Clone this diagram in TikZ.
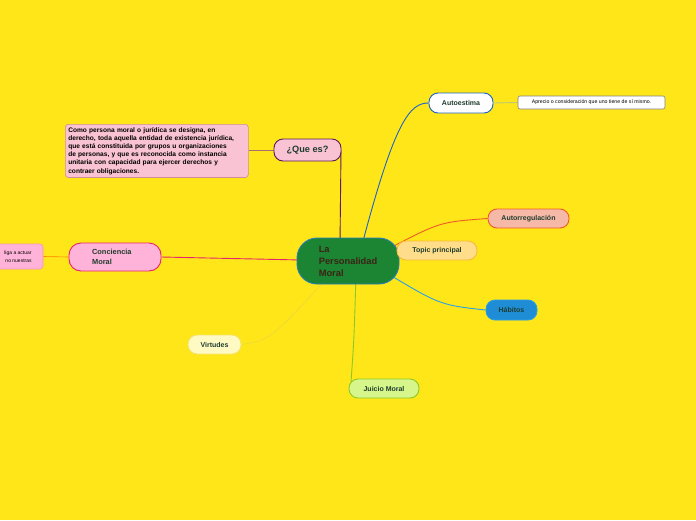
\documentclass[tikz,border=0pt]{standalone}
\usepackage{fontspec}
\setmainfont{Liberation Sans}
\usetikzlibrary{backgrounds}
\definecolor{bg}{HTML}{FFE619}
\definecolor{cgreen}{HTML}{1B8534}
\definecolor{cblue}{HTML}{2A7FB8}
\definecolor{ctext}{HTML}{3C2314}
\definecolor{qpink}{HTML}{F9C3D3}
\definecolor{qpurp}{HTML}{5C1A5A}
\definecolor{dborder}{HTML}{D28C96}
\definecolor{cmfill}{HTML}{FFB3D9}
\definecolor{cmdraw}{HTML}{E8236E}
\definecolor{lborder}{HTML}{F096BE}
\definecolor{vfill}{HTML}{FFF9C4}
\definecolor{vdraw}{HTML}{F3E36C}
\definecolor{vline}{HTML}{EBD73C}
\definecolor{jfill}{HTML}{D6F58A}
\definecolor{jdraw}{HTML}{8AC926}
\definecolor{hfill}{HTML}{1F8DD6}
\definecolor{hdraw}{HTML}{28A0E6}
\definecolor{tfill}{HTML}{FFDD8A}
\definecolor{tdraw}{HTML}{F9B93A}
\definecolor{afill}{HTML}{F6B9A8}
\definecolor{adraw}{HTML}{F05A28}
\definecolor{edraw}{HTML}{1A63C7}
\definecolor{apline}{HTML}{BEC878}
\definecolor{qline}{HTML}{AA6E6E}
\definecolor{ttext}{HTML}{1E3C2D}
\begin{document}
\begin{tikzpicture}[x=1pt,y=-1pt,font=\bfseries,
 topic/.style={rounded corners=9pt,draw,line width=0.9pt,inner sep=0pt,text=ttext,font=\bfseries\fontsize{7}{8}\selectfont},
 note/.style={rounded corners=3pt,draw,line width=0.6pt,align=left,inner sep=3pt}]
\useasboundingbox (0,0) rectangle (696,520);
\node[topic,fill=cgreen,draw=cblue,minimum width=102pt,minimum height=46pt,rounded corners=20pt,align=left,font=\bfseries\fontsize{9.3}{12}\selectfont,text=ctext] (c) at (348,261) {La\\Personalidad\\Moral\hspace*{20pt}};
\node[topic,fill=qpink,draw=qpurp,minimum width=67pt,minimum height=22pt,font=\bfseries\fontsize{9.2}{10}\selectfont] (q) at (307.5,150) {¿Que es?};
\node[note,fill=qpink,draw=dborder,text width=177pt,minimum height=53pt,font=\bfseries\fontsize{6.6}{8.2}\selectfont,anchor=north west] (d) at (65,124) {Como persona moral o jurídica se designa, en\\derecho, toda aquella entidad de existencia jurídica,\\que está constituida por grupos u organizaciones\\de personas, y que es reconocida como instancia\\unitaria con capacidad para ejercer derechos y\\contraer obligaciones.};
\node[topic,fill=cmfill,draw=cmdraw,minimum width=92pt,minimum height=28pt,rounded corners=12pt,align=left,font=\bfseries\fontsize{7.4}{10}\selectfont] (cm) at (115,257) {Conciencia\\Moral\hspace*{26pt}};
\node[note,fill=cmfill,draw=lborder,minimum height=25pt,minimum width=50pt,font=\fontsize{5}{7.5}\selectfont,align=right,inner sep=2pt] (l) at (18,256.5) {liga a actuar\\ no nuestras};
\node[topic,fill=vfill,draw=vdraw,minimum width=53pt,minimum height=19pt] (v) at (214.5,344.5) {Virtudes};
\node[topic,fill=jfill,draw=jdraw,minimum width=70pt,minimum height=19pt] (j) at (384,388.5) {Juicio Moral};
\node[topic,fill=hfill,draw=hdraw,minimum width=51pt,minimum height=20pt] (h) at (511.5,310) {Hábitos};
\node[topic,fill=tfill,draw=tdraw,minimum width=80pt,minimum height=19pt] (t) at (437,250.5) {Topic principal};
\node[topic,fill=afill,draw=adraw,minimum width=81pt,minimum height=19pt] (ar) at (528.5,218.5) {Autorregulación};
\node[topic,fill=white,draw=edraw,minimum width=64pt,minimum height=20pt] (ae) at (461,103) {Autoestima};
\node[note,fill=white,draw=gray,minimum width=147pt,minimum height=13pt,inner sep=1pt,font=\fontsize{5.2}{6}\selectfont,rounded corners=2pt] (ap) at (591.5,102.5) {Aprecio o consideración que uno tiene de sí mismo.};
\begin{scope}[on background layer]
\fill[bg] (0,0) rectangle (696,520);
\draw[line width=0.9pt,qpurp] (340,245) -- (341,150) -- (q.east);
\draw[line width=0.6pt,qline] (q.west) -- (d.east |- q.west);
\draw[line width=0.9pt,cmdraw] (cm.east) -- (c.center);
\draw[line width=0.6pt,orange] (cm.west) -- (l.east);
\draw[line width=0.6pt,vline] (v.east) .. controls (270,340) .. (330,275);
\draw[line width=0.9pt,jdraw] (356,275) .. controls (354,340) .. (351,382);
\draw[line width=0.9pt,hdraw] (385,272) .. controls (440,305) .. (h.west);
\draw[line width=0.9pt,adraw] (390,248) .. controls (440,222) .. (ar.west);
\draw[line width=0.9pt,edraw] (362,245) .. controls (395,120) and (410,103) .. (ae.west);
\draw[line width=0.9pt,apline] (ae.east) -- (ap.west);
\end{scope}
\end{tikzpicture}
\end{document}
